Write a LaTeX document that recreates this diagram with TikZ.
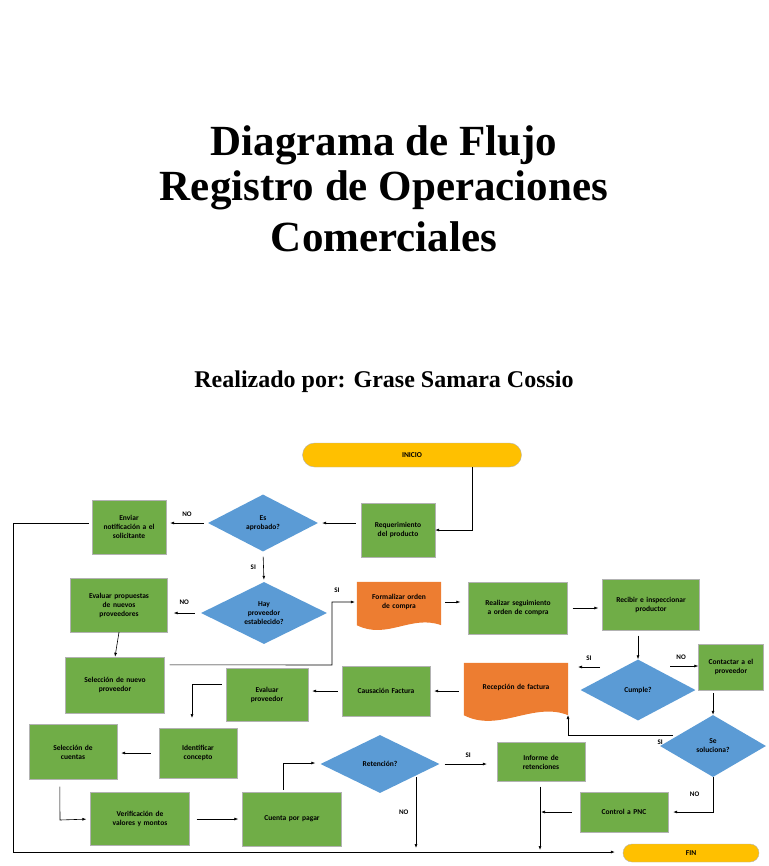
\documentclass[tikz,border=0pt]{standalone}
\usepackage{fontspec}
\setmainfont{Liberation Serif}
\newfontfamily\boxfont{Carlito}
\usetikzlibrary{shapes.geometric,shapes.misc,arrows.meta,backgrounds,calc}
\definecolor{gbox}{HTML}{70AD47}
\definecolor{bdia}{HTML}{5B9BD5}
\definecolor{odoc}{HTML}{ED7D31}
\definecolor{ystad}{HTML}{FFC000}
\tikzset{
  lbl/.style={font=\boxfont\bfseries\fontsize{7.5}{9}\selectfont,align=center},
  gb/.style={lbl,rectangle,fill=gbox,draw=gray!60,inner sep=1pt},
  dia/.style={lbl,diamond,fill=bdia,draw=none,inner sep=0pt},
  docn/.style={lbl,rectangle,draw=none,inner sep=1pt},
  stad/.style={lbl,rounded rectangle,fill=ystad,draw=gray!60,inner sep=1pt},
  arr/.style={-{Latex[length=4pt,width=3pt]},line width=0.6pt},
  tag/.style={font=\boxfont\bfseries\fontsize{7}{8}\selectfont}
}
\begin{document}
\begin{tikzpicture}[x=1pt,y=-1pt]
\useasboundingbox (0,0) rectangle (768,866);
\node (t1) at (384,145) {\fontsize{43}{45}\selectfont\bfseries Diagrama de Flujo};
\node (t2) at (384,190) {\fontsize{43}{45}\selectfont\bfseries Registro de Operaciones};
\node (t3) at (384,237) {\fontsize{43}{45}\selectfont\bfseries Comerciales};
\node (au) at (384,382) {\fontsize{24}{26}\selectfont\bfseries Realizado por: Grase Samara Cossio};

\node[stad,minimum width=221,minimum height=24] (ini) at (412,455) {INICIO};
\node[gb,minimum width=74,minimum height=54,text width=70] (req) at (398,530) {Requerimiento\\del producto};
\node[dia,minimum width=110,minimum height=57] (es) at (263,523) {Es\\aprobado?};
\node[gb,minimum width=74,minimum height=54,text width=70] (env) at (129,527) {Enviar\\notificación a el\\solicitante};
\node[dia,minimum width=126,minimum height=60] (hay) at (264,613) {Hay\\proveedor\\establecido?};
\node[gb,minimum width=97,minimum height=54,text width=90] (evp) at (119,605) {Evaluar propuestas\\de nuevos\\proveedores};
\node[gb,minimum width=99,minimum height=56,text width=92] (sel) at (115,685) {Selección de nuevo\\proveedor};
\node[docn,minimum width=84,minimum height=40,text width=80] (for) at (399,602) {Formalizar orden\\de compra};
\node[gb,minimum width=99,minimum height=52,text width=95] (rea) at (518,608) {Realizar seguimiento\\a orden de compra};
\node[gb,minimum width=97,minimum height=51,text width=95] (rec) at (651,605) {Recibir e inspeccionar\\productor};
\node[dia,minimum width=115,minimum height=61] (cum) at (638,690) {Cumple?};
\node[gb,minimum width=65,minimum height=46,text width=63] (con) at (731,667) {Contactar a el\\proveedor};
\node[dia,minimum width=106,minimum height=62] (se) at (713,746) {Se\\soluciona?};
\node[docn,minimum width=104,minimum height=48,text width=100] (rf) at (516,687) {Recepción de factura};
\node[gb,minimum width=88,minimum height=50,text width=85] (cau) at (386,691) {Causación Factura};
\node[gb,minimum width=82,minimum height=53,text width=78] (evv) at (267,695) {Evaluar\\proveedor};
\node[gb,minimum width=78,minimum height=50,text width=74] (ide) at (198,753) {Identificar\\concepto};
\node[gb,minimum width=88,minimum height=55,text width=84] (sc) at (73,752) {Selección de\\cuentas};
\node[gb,minimum width=99,minimum height=53,text width=95] (ver) at (140,819) {Verificación de\\valores y montos};
\node[gb,minimum width=99,minimum height=54,text width=95] (cpp) at (292,819) {Cuenta por pagar};
\node[dia,minimum width=119,minimum height=58] (ret) at (380,764) {Retención?};
\node[gb,minimum width=88,minimum height=39,text width=84] (inf) at (541,762) {Informe de\\retenciones};
\node[gb,minimum width=88,minimum height=40,text width=84] (pnc) at (624,812) {Control a PNC};
\node[stad,minimum width=138,minimum height=18] (fin) at (691,853) {FIN};

\begin{scope}[on background layer]
\fill[odoc] (for.north west) -- (for.north east) -- ($(for.south east)+(0,3)$)
  .. controls ($(for.south east)+(-30,-8)$) and ($(for.south west)+(30,18)$) .. ($(for.south west)+(0,3)$) -- cycle;
\fill[odoc] (rf.north west) -- (rf.north east) -- ($(rf.south east)+(0,4)$)
  .. controls ($(rf.south east)+(-35,-10)$) and ($(rf.south west)+(35,22)$) .. ($(rf.south west)+(0,4)$) -- cycle;
\end{scope}

\coordinate (c1) at (472,467);
\draw[arr] (c1) |- (req.east);
\draw[arr,shorten <=5pt,shorten >=4pt] (req.west |- es.east) -- (es.east);
\draw[arr,shorten <=4pt,shorten >=4pt] (es.west) -- node[tag,above=3pt]{NO} (es.west -| env.east);
\draw[arr,shorten <=5pt,shorten >=2pt] (es.south) -- node[tag,left=4pt]{SI} (hay.north);
\draw[arr,shorten <=6pt,shorten >=6pt] (hay.west) -- node[tag,above=5pt]{NO} (hay.west -| evp.east);
\draw[arr] (evp.south) -- (sel.north);
\coordinate (c2) at (332,665);
\draw[arr,shorten >=2pt] ($(sel.north east)+(5,8)$) -- (c2) |- node[tag,pos=0.9,above=6pt,xshift=-15pt]{SI} (for.west);
\draw[arr,shorten <=4pt,shorten >=8pt] (for.east) -- (for.east -| rea.west);
\draw[arr,shorten <=5pt,shorten >=4pt] (rea.east) -- (rea.east -| rec.west);
\draw[arr,shorten <=5pt] (rec.south -| cum.north) -- (cum.north);
\coordinate (c13) at (600,667);
\draw[arr] (c13) -- node[tag,above=3pt]{SI} (578,667);
\coordinate (c14) at (670,666);
\draw[arr] (c14) -- node[tag,above=3pt,xshift=-3pt]{NO} (c14 -| con.west);
\draw[arr,shorten <=3pt] (con.south -| se.north) -- (se.north);
\coordinate (c3) at (568,735);
\draw[arr] ($(se.west)+(13,-11)$) -- node[tag,below=1pt,pos=0.12]{SI} (c3) -- (568,715);
\coordinate (c4) at (713,812);
\draw[arr,shorten >=5pt] (se.south) -- (c4) -- node[tag,pos=0.3,above=12pt,xshift=-5pt]{NO} (pnc.east);
\coordinate (c5) at (541,812);
\draw[arr,shorten <=8pt] (pnc.west) -- (c5);
\draw[arr,shorten <=5pt,shorten >=4pt] (rf.west |- cau.east) -- (cau.east);
\draw[arr,shorten <=4pt,shorten >=4pt] (cau.west) -- (cau.west -| evv.east);
\coordinate (c6) at (192,684);
\draw[arr] ($(evv.west)+(-4,-11)$) -- (c6) -- (192,718);
\draw[arr,shorten <=8pt,shorten >=4pt] (ide.west) -- (ide.west -| sc.east);
\coordinate (c7) at (60,820);
\draw[arr,shorten >=4pt] ($(sc.south west)+(31,7)$) -- (c7) -- (ver.west);
\draw[arr,shorten <=7pt,shorten >=4pt] (ver.east) -- (cpp.west);
\coordinate (c8) at (283,763);
\draw[arr,shorten >=5pt] ($(cpp.north)+(-9,-2)$) -- (c8) -- (c8 -| ret.west);
\draw[arr,shorten <=5pt,shorten >=10pt] (ret.east) -- node[tag,above=3pt]{SI} (ret.east -| inf.west);
\coordinate (c9) at (416,848);
\draw[arr] (416,777) -- node[tag,left=4pt]{NO} (c9);
\coordinate (c10) at (540,850);
\draw[arr] ($(inf.south)+(-1,5)$) -- (c10);
\coordinate (c11) at (13,523);
\coordinate (c12) at (13,852);
\draw[arr,shorten >=8pt] ($(env.west)+(-3,-4)$) -- (c11) -- (c12) -- (c12 -| fin.west);
\end{tikzpicture}
\end{document}
